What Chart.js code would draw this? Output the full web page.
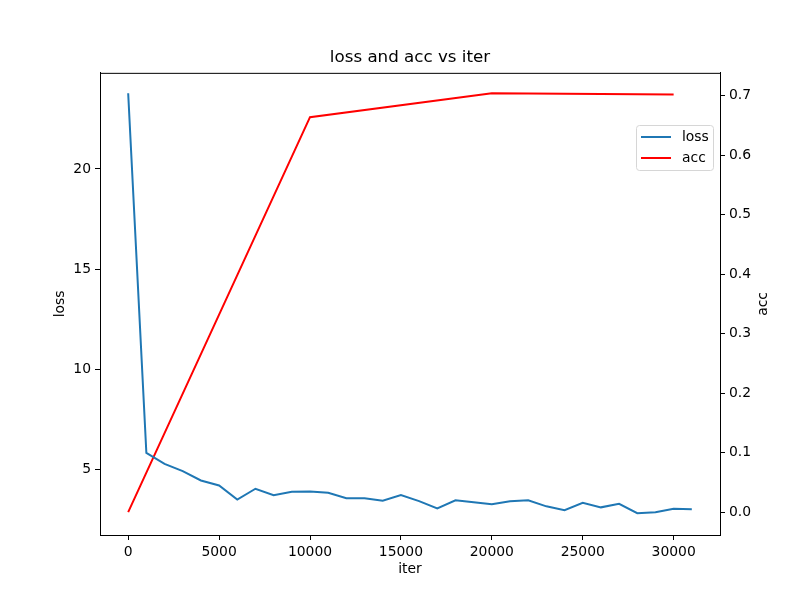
<!DOCTYPE html>
<html>
<head>
<meta charset="utf-8">
<script src="https://cdn.jsdelivr.net/npm/chart.js@4/dist/chart.umd.min.js"></script>
<style>
  html, body { margin: 0; padding: 0; background: #fff; }
  #wrap { width: 800px; height: 600px; position: relative; }
</style>
</head>
<body>
<div id="wrap"><canvas id="lossAccChart" width="800" height="600"></canvas></div>
<script>
// iterations for the loss series
const lossIters = [0, 1000, 2000, 3000, 4000, 5000, 6000, 7000, 8000, 9000, 10000,
    11000, 12000, 13000, 14000, 15000, 16000, 17000, 18000, 19000, 20000,
    21000, 22000, 23000, 24000, 25000, 26000, 27000, 28000, 29000, 30000, 31000];
const lossValues = [23.78, 5.83, 5.28, 4.92, 4.45, 4.20, 3.50, 4.04, 3.72, 3.89, 3.90,
    3.84, 3.57, 3.57, 3.44, 3.72, 3.42, 3.06, 3.46, 3.36, 3.27,
    3.42, 3.46, 3.16, 2.97, 3.34, 3.11, 3.29, 2.82, 2.87, 3.04, 3.02];

// iterations for the accuracy series
const accIters = [0, 10000, 20000, 30000];
const accValues = [0.0, 0.664, 0.704, 0.702];

// tick labels
const xTicks = [0, 5000, 10000, 15000, 20000, 25000, 30000];
const lossTicks = [5, 10, 15, 20];
const accTicks = [0.0, 0.1, 0.2, 0.3, 0.4, 0.5, 0.6, 0.7];

const FONT = "'DejaVu Sans', sans-serif";

const toPoints = (xs, ys) => xs.map((x, i) => ({ x: x, y: ys[i] }));
const setTicks = (list) => (scale) => { scale.ticks = list.map(v => ({ value: v })); };

// frame around plot area, right axis label (rotated like matplotlib) and legend box
const framePlugin = {
    id: "frame",
    afterDraw(chart) {
        const ctx = chart.ctx;
        const a = chart.chartArea;
        ctx.save();
        ctx.strokeStyle = "#000";
        ctx.lineWidth = 1;
        ctx.strokeRect(a.left + 0.5, a.top + 0.5, a.right - a.left, a.bottom - a.top);

        // right axis title, reads bottom to top
        ctx.save();
        ctx.translate(763, (a.top + a.bottom) / 2);
        ctx.rotate(-Math.PI / 2);
        ctx.font = "13.9px " + FONT;
        ctx.fillStyle = "#000";
        ctx.textAlign = "center";
        ctx.textBaseline = "middle";
        ctx.fillText("acc", 0, 0);
        ctx.restore();

        // legend
        const bx = 636.5, by = 125.5, bw = 77, bh = 45, r = 3;
        ctx.beginPath();
        ctx.moveTo(bx + r, by);
        ctx.arcTo(bx + bw, by, bx + bw, by + bh, r);
        ctx.arcTo(bx + bw, by + bh, bx, by + bh, r);
        ctx.arcTo(bx, by + bh, bx, by, r);
        ctx.arcTo(bx, by, bx + bw, by, r);
        ctx.closePath();
        ctx.fillStyle = "rgba(255,255,255,0.8)";
        ctx.fill();
        ctx.strokeStyle = "#d6d6d6";
        ctx.stroke();

        const items = chart.data.datasets;
        ctx.font = "13.9px " + FONT;
        ctx.textBaseline = "middle";
        ctx.fillStyle = "#000";
        items.forEach((ds, i) => {
            const y = 137 + i * 21;
            ctx.strokeStyle = ds.borderColor;
            ctx.lineWidth = 2;
            ctx.beginPath();
            ctx.moveTo(641, y);
            ctx.lineTo(671, y);
            ctx.stroke();
            ctx.fillText(ds.label, 682, y);
        });
        ctx.restore();
    }
};

const ctx = document.getElementById("lossAccChart").getContext("2d");
new Chart(ctx, {
    type: "line",
    data: {
        datasets: [
            {
                label: "loss",
                data: toPoints(lossIters, lossValues),
                borderColor: "#1f77b4",
                backgroundColor: "#1f77b4",
                borderWidth: 2,
                pointRadius: 0,
                tension: 0,
                yAxisID: "y",
            },
            {
                label: "acc",
                data: toPoints(accIters, accValues),
                borderColor: "#ff0000",
                backgroundColor: "#ff0000",
                borderWidth: 2,
                pointRadius: 0,
                tension: 0,
                yAxisID: "y1",
            },
        ],
    },
    options: {
        responsive: false,
        animation: false,
        layout: { padding: { top: 0, left: 0, right: 0, bottom: 0 } },
        plugins: {
            legend: { display: false },
            tooltip: { enabled: false },
            title: {
                display: true,
                text: "loss and acc vs iter",
                color: "#000",
                fullSize: false,
                font: { family: FONT, size: 16.7, weight: "normal" },
                padding: { top: 48, bottom: 4.8 },
            },
        },
        scales: {
            x: {
                type: "linear",
                min: -1550,
                max: 32550,
                afterBuildTicks: setTicks(xTicks),
                afterFit: (s) => { s.height = 65; },
                grid: { drawOnChartArea: false, drawTicks: true, tickLength: 5, color: "#000" },
                border: { display: true, color: "#000" },
                ticks: { color: "#000", padding: 4, maxRotation: 0, font: { family: FONT, size: 13.9 },
                    callback: (v) => String(v) },
                title: { display: true, text: "iter", color: "#000", font: { family: FONT, size: 13.9 }, padding: 22 },
            },
            y: {
                type: "linear",
                position: "left",
                min: 1.73,
                max: 24.8,
                afterBuildTicks: setTicks(lossTicks),
                afterFit: (s) => { s.width = 100; },
                grid: { drawOnChartArea: false, drawTicks: true, tickLength: 5, color: "#000" },
                border: { display: true, color: "#000" },
                ticks: { color: "#000", padding: 4, font: { family: FONT, size: 13.9 },
                    callback: (v) => String(v) },
                title: { display: true, text: "loss", color: "#000", font: { family: FONT, size: 13.9 }, padding: 52 },
            },
            y1: {
                type: "linear",
                position: "right",
                min: -0.0385,
                max: 0.7385,
                afterBuildTicks: setTicks(accTicks),
                afterFit: (s) => { s.width = 80; },
                grid: { drawOnChartArea: false, drawTicks: true, tickLength: 5, color: "#000" },
                border: { display: true, color: "#000" },
                ticks: { color: "#000", padding: 4, font: { family: FONT, size: 13.9 },
                    callback: (v) => Number(v).toFixed(1) },
                title: { display: false },
            },
        },
    },
    plugins: [framePlugin],
});
</script>
</body>
</html>
